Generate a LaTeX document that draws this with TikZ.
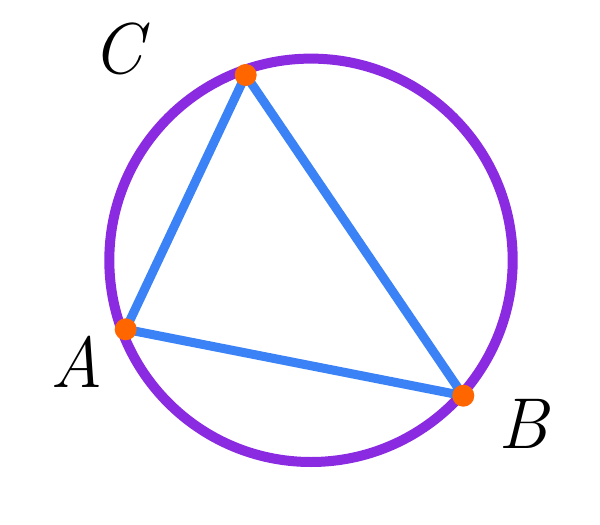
\documentclass[tikz,border=0pt]{standalone}
\usepackage{fontspec}
\definecolor{circ}{RGB}{138,43,226}
\definecolor{tri}{RGB}{59,130,246}
\definecolor{pt}{RGB}{255,102,0}
\begin{document}
\begin{tikzpicture}[x=1pt,y=-1pt,
  circline/.style={draw=circ,line width=10pt},
  triline/.style={draw=tri,line width=9pt,line join=round},
  dot/.style={circle,fill=pt,inner sep=0pt,minimum size=22pt},
  lab/.style={inner sep=0pt,font=\fontsize{72}{72}\selectfont\itshape}]
\useasboundingbox (0,0) rectangle (600,525);
\coordinate (O) at (311,260.3);
\draw[circline] (O) circle[radius=201.7];
\coordinate (A) at (125.7,329.3);
\coordinate (B) at (463.3,395.7);
\coordinate (C) at (245.7,75);
\draw[triline] (A) -- (B) -- (C) -- cycle;
\node[dot] (dA) at (A) {};
\node[dot] (dB) at (B) {};
\node[dot] (dC) at (C) {};
\node[lab,anchor=base] (lA) at (77,387) {A};
\node[lab,anchor=base] (lB) at (523,448.5) {B};
\node[lab,anchor=base] (lC) at (118,73.5) {C};
\end{tikzpicture}
\end{document}
